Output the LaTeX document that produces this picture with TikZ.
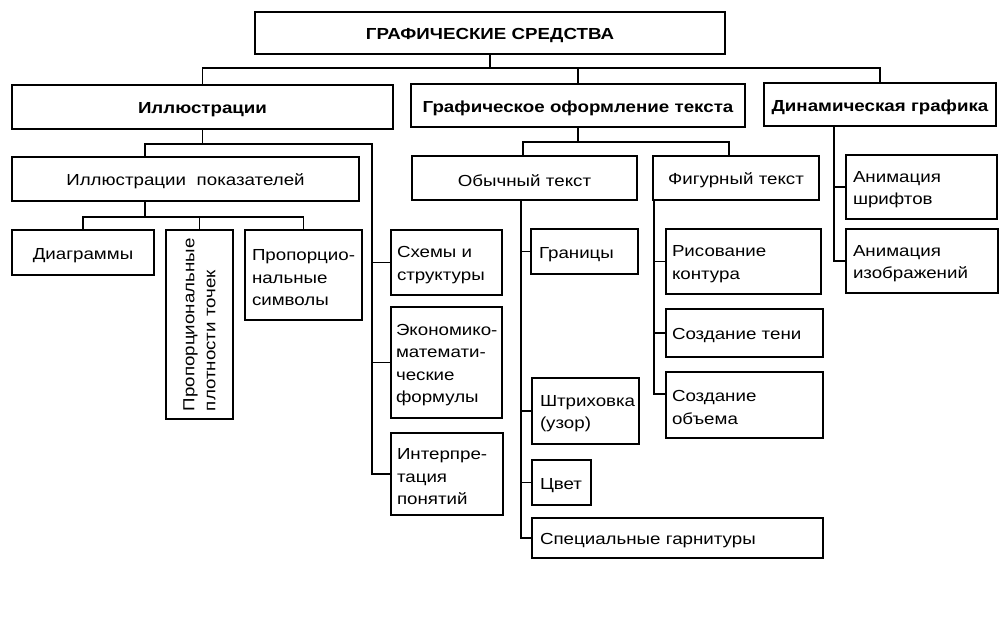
\documentclass[tikz,border=0pt]{standalone}
\usepackage{fontspec}
\setmainfont[FakeStretch=1.17]{Liberation Sans}
\hyphenpenalty=10000
\exhyphenpenalty=10000
\newcommand\myins{7}
\newcommand\mybox[7]{%
  \pgfmathsetmacro\bw{#4-#2}\pgfmathsetmacro\bh{#5-#3}\pgfmathsetmacro\tw{#4-#2-2*\myins}%
  \pgfmathsetmacro\cx{(#2+#4)/2}\pgfmathsetmacro\cy{(#3+#5)/2}%
  \node[bx, minimum width=\bw pt, minimum height=\bh pt, text width=\tw pt, align=#6] (#1) at (\cx,\cy) {\rule{0pt}{16.5pt}#7};}
\begin{document}
\begin{tikzpicture}[x=1pt,y=-1pt,
  bx/.style={draw, line width=1.7pt, inner sep=0pt,
    font=\fontsize{16}{22.5}\selectfont},
  conn/.style={line width=1.5pt}]
\useasboundingbox[fill=white] (0,0) rectangle (1005,626);
% level 0 and 1
\begin{scope}[bx/.append style={font=\fontsize{16}{22}\selectfont\bfseries}]
\mybox{top}{255}{12}{725}{54}{center}{ГРАФИЧЕСКИЕ СРЕДСТВА}
\mybox{ill}{12}{85}{393}{129}{center}{Иллюстрации}
\mybox{gra}{411}{84}{745}{127}{center}{Графическое оформление текста}
\mybox{dyn}{764}{83}{996}{126}{center}{Динамическая графика}
\end{scope}
% level 2
\mybox{ip}{12}{157}{359}{201}{center}{Иллюстрации\ \ показателей}
\mybox{ob}{412}{156}{637}{200}{center}{Обычный текст}
\mybox{fig}{653}{156}{819}{200}{center}{Фигурный текст}
% illustrations
\mybox{diag}{12}{230}{154}{275}{center}{Диаграммы}
\node[bx, rotate=90, minimum width=189pt, minimum height=67pt, text width=173pt,
  align=left, font=\fontsize{16}{21}\selectfont] (ppt) at (199.5,324.5)
  {Пропорциональные\\плотности точек};
\mybox{sym}{245}{230}{362}{320}{left}{Пропорцио-\\нальные\\символы}
\renewcommand\myins{6}
\mybox{sch}{391}{230}{502}{295}{left}{Схемы и\\структуры}
\renewcommand\myins{5}
\mybox{eco}{391}{307}{502}{418}{left}{Экономико-\\математи-\\ческие\\формулы}
\renewcommand\myins{6}
\mybox{int}{391}{433}{503}{515}{left}{Интерпре-\\тация\\понятий}
% ordinary text
\renewcommand\myins{8}
\mybox{gr}{531}{229}{638}{274}{left}{Границы}
\mybox{sht}{532}{378}{639}{444}{left}{Штриховка\\(узор)}
\mybox{cv}{532}{460}{591}{505}{left}{Цвет}
\mybox{spec}{532}{518}{823}{558}{left}{Специальные гарнитуры}
% figure text
\renewcommand\myins{6}
\mybox{ris}{666}{229}{821}{294}{left}{Рисование\\контура}
\mybox{ten}{666}{309}{823}{357}{left}{Создание тени}
\mybox{obm}{666}{372}{823}{438}{left}{Создание\\объема}
% dynamic
\renewcommand\myins{7}
\mybox{as}{846}{155}{997}{219}{left}{Анимация\\шрифтов}
\mybox{ai}{846}{229}{998}{293}{left}{Анимация\\изображений}
% connectors
\coordinate (t1) at (490,68);
\draw[conn] (top.south) -- (t1);
\draw[conn] (ill.north) |- (t1) -| (dyn.north);
\draw[conn] (gra.north) -- (gra.north |- t1);
% illustrations
\coordinate (i1) at (202.5,144);
\coordinate (ipn) at (145,157);
\coordinate (ix) at (372,144);
\draw[conn] (ill.south) -- (i1);
\draw[conn] (ipn) |- (ix) -- (ix |- int.west) -- (int.west);
\draw[conn] (ix |- sch.west) -- (sch.west);
\draw[conn] (ix |- eco.west) -- (eco.west);
\coordinate (p1) at (145,217);
\draw[conn] (ip.south -| p1) -- (p1);
\draw[conn] (diag.north) |- (p1);
\draw[conn] (sym.north) |- (p1);
\draw[conn] (ppt.east) -- (ppt.east |- p1);
% graphic text design
\coordinate (g1) at (578,142);
\coordinate (obn) at (523,156);
\coordinate (fign) at (729,156);
\draw[conn] (gra.south) -- (g1);
\draw[conn] (obn) |- (g1) -| (fign);
\coordinate (ox) at (521,200);
\draw[conn] (ox) |- (spec.west);
\draw[conn] (ox |- gr.west) -- (gr.west);
\draw[conn] (ox |- sht.west) -- (sht.west);
\draw[conn] (ox |- cv.west) -- (cv.west);
\coordinate (fx) at (654,200);
\coordinate (obmb) at (666,394);
\draw[conn] (fx) |- (obmb);
\draw[conn] (fx |- ris.west) -- (ris.west);
\draw[conn] (fx |- ten.west) -- (ten.west);
% dynamic
\coordinate (dx) at (834,126);
\draw[conn] (dx) |- (ai.west);
\draw[conn] (dx |- as.west) -- (as.west);
\end{tikzpicture}
\end{document}
